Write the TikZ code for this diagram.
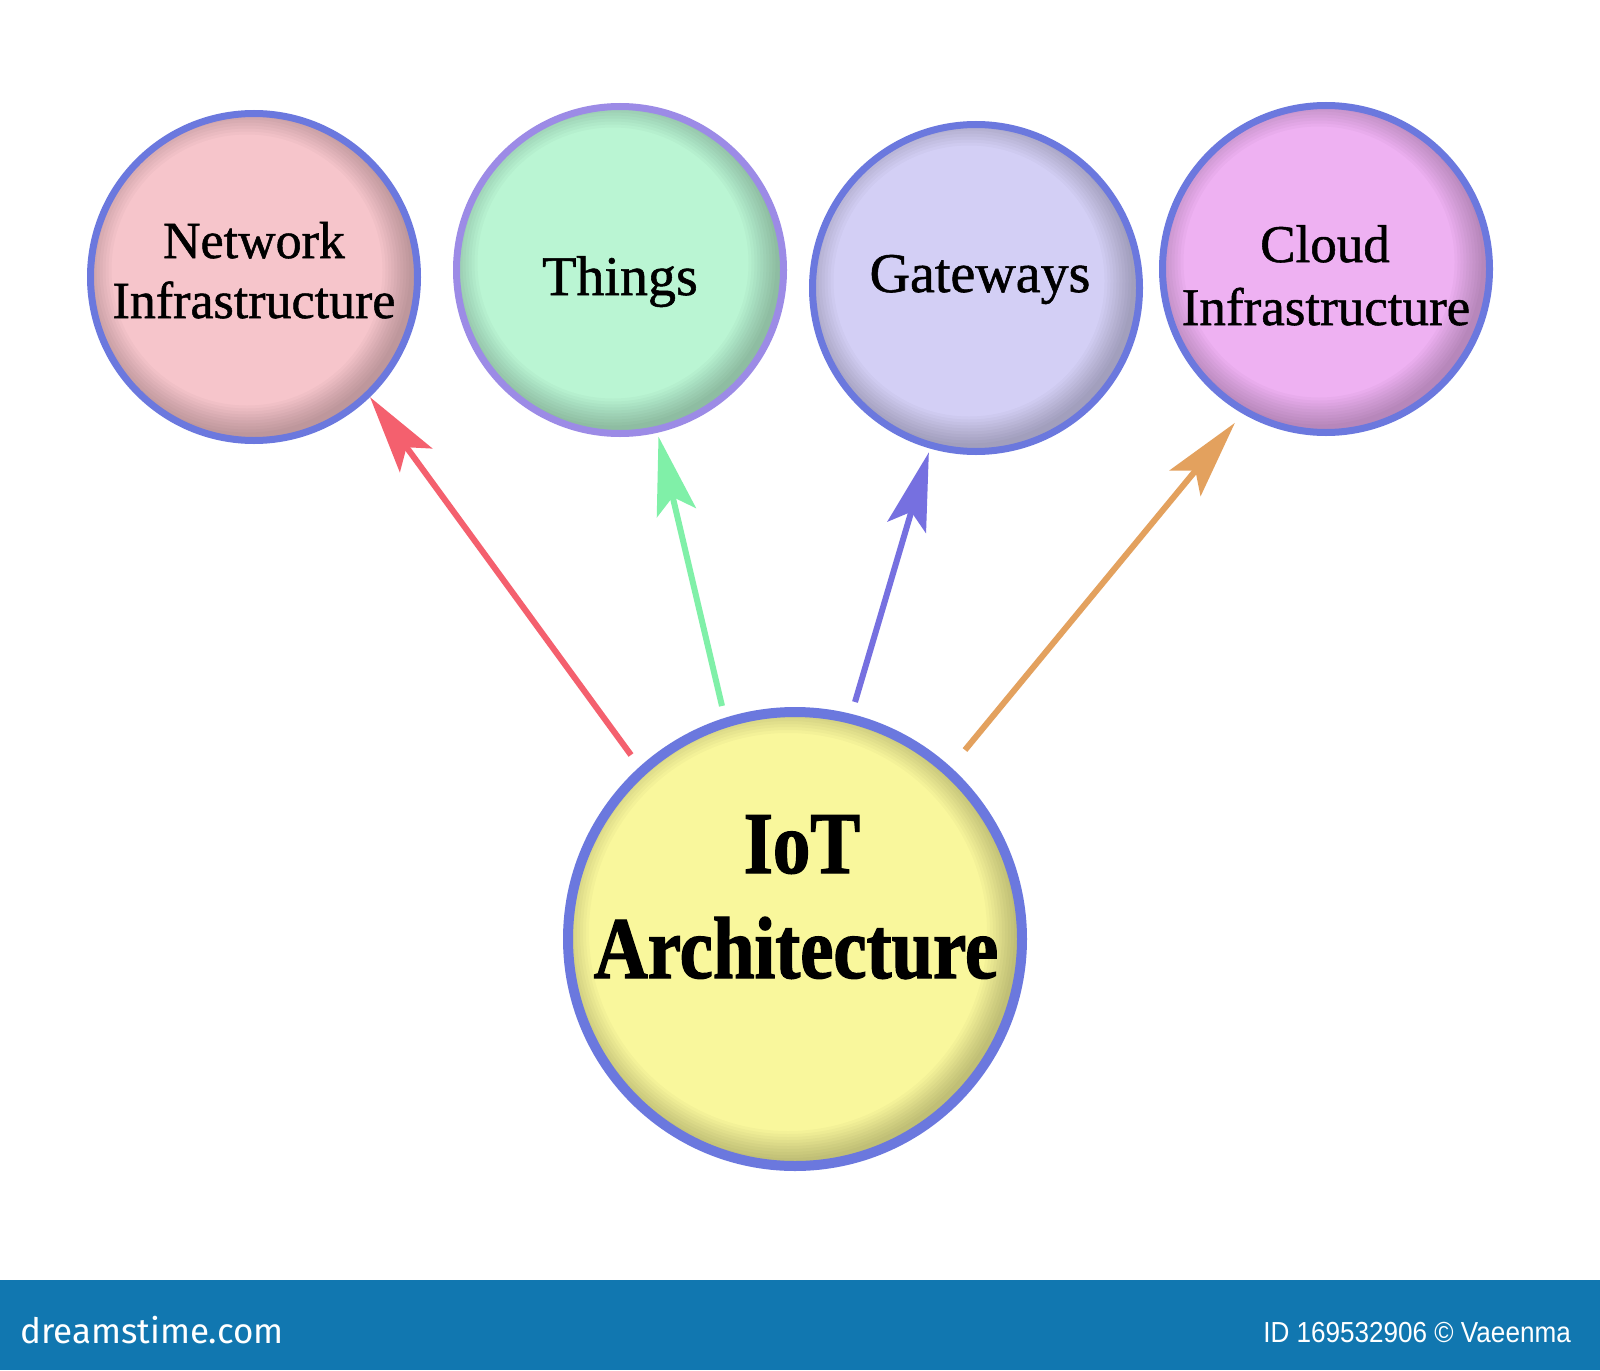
\documentclass[tikz,border=0pt]{standalone}
\usepackage{fontspec}
\setmainfont[FakeBold=1]{Liberation Serif}
\newfontfamily\iotfont[FakeStretch=0.85,FakeBold=1.5]{Liberation Serif}
\newfontfamily\bannerfont{Fira Sans}
\newfontfamily\idfont[FakeStretch=0.9]{Liberation Sans}
\usetikzlibrary{arrows.meta,calc}
\definecolor{netfill}{HTML}{F6C5CB}
\definecolor{thfill}{HTML}{BAF5D3}
\definecolor{gwfill}{HTML}{D3CFF5}
\definecolor{clfill}{HTML}{EEB1F2}
\definecolor{iotfill}{HTML}{F9F79C}
\definecolor{rimblue}{HTML}{6B78DE}
\definecolor{rimlav}{HTML}{9C8BE6}
\definecolor{arred}{HTML}{F4606E}
\definecolor{argreen}{HTML}{80F0A8}
\definecolor{arblue}{HTML}{7670E0}
\definecolor{arorange}{HTML}{E3A15E}
\definecolor{banner}{HTML}{1177B0}
\tikzset{
  inset shadow/.style={path picture={
    \foreach \k in {0,...,9} {
      \fill[black, opacity=0.022, even odd rule]
        ($(path picture bounding box.center)+(-260,-260)$) rectangle ($(path picture bounding box.center)+(260,260)$)
        ($(path picture bounding box.center)+(-7,-7)$) circle [radius={(#1-1-3*\k)*1pt}];
    }}},
  bubble/.style={circle, inner sep=0pt, minimum size=327pt, line width=7pt, draw=rimblue, inset shadow=163.5},
  bigbubble/.style={circle, inner sep=0pt, minimum size=454pt, line width=10pt, draw=rimblue, inset shadow=227},
  lbl/.style={anchor=base, inner sep=0pt, text=black},
  conn/.style={line width=6pt, -{Stealth[length=78pt, width=40pt, inset=16pt]}},
}
\begin{document}
\begin{tikzpicture}[x=1pt,y=-1pt]
\useasboundingbox (0,0) rectangle (1600,1370);
\fill[white] (0,0) rectangle (1600,1370);

% circles
\node[bubble, fill=netfill] (net) at (254,277) {};
\node[bubble, fill=thfill, draw=rimlav] (things) at (620,270) {};
\node[bubble, fill=gwfill] (gw) at (976,288) {};
\node[bubble, fill=clfill] (cloud) at (1326,269) {};
\node[bigbubble, fill=iotfill] (iot) at (795,939) {};

% labels
\node[lbl, font=\fontsize{52}{60}\selectfont] (net1) at (254,258) {Network};
\node[lbl, font=\fontsize{52}{60}\selectfont] (net2) at (254,318) {Infrastructure};
\node[lbl, font=\fontsize{56}{64}\selectfont] (th1) at (620,295) {Things};
\node[lbl, font=\fontsize{56}{64}\selectfont] (gw1) at (980,292) {Gateways};
\node[lbl, font=\fontsize{53}{62}\selectfont] (cl1) at (1325,262) {Cloud};
\node[lbl, font=\fontsize{53}{62}\selectfont] (cl2) at (1326,325) {Infrastructure};
\node[lbl, font=\iotfont\bfseries\fontsize{88}{100}\selectfont] (iot1) at (802,873) {IoT};
\node[lbl, font=\iotfont\bfseries\fontsize{88}{100}\selectfont] (iot2) at (796,978) {Architecture};

% arrow tails
\coordinate (t1) at (631,755);
\coordinate (t2) at (722,706);
\coordinate (t3) at (855,702);
\coordinate (t4) at (965,750);

\draw[conn, draw=arred, arred] (t1) -- (net.-46);
\draw[conn, draw=argreen, argreen, shorten >=4pt] (t2) -- (things.-77);
\draw[conn, draw=arblue, arblue, shorten >=4pt] (t3) -- (gw.-106);
\draw[conn, draw=arorange, arorange, shorten >=12pt] (t4) -- (cloud.-120);

% banner
\fill[banner] (0,1280) rectangle (1600,1370);
\node[anchor=base west, inner sep=0pt, text=white, font=\bannerfont\fontsize{35}{40}\selectfont] (brand) at (20,1343) {dreamstime.com};
\node[anchor=base east, inner sep=0pt, text=white, font=\idfont\fontsize{29}{34}\selectfont] (imgid) at (1571,1342) {ID 169532906 © Vaeenma};
\end{tikzpicture}
\end{document}
